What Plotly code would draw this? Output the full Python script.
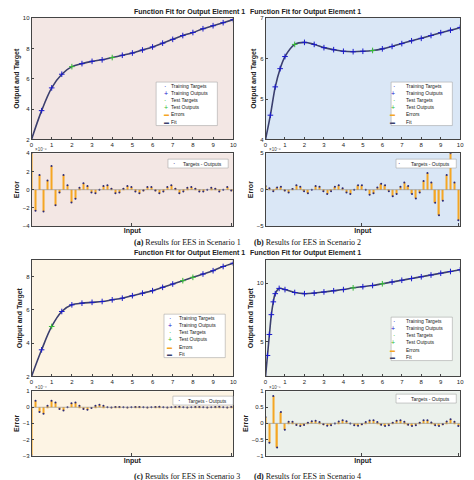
import plotly.graph_objects as go

# fitted curves, read at knots
xa = [0, 0.5, 1, 1.5, 2, 2.5, 3, 3.5, 4, 4.5, 5, 5.5, 6, 6.5, 7, 7.5, 8, 8.5, 9, 9.5, 10]
ya = [2, 3.9, 5.4, 6.3, 6.8, 7.0, 7.15, 7.25, 7.4, 7.55, 7.7, 7.9, 8.1, 8.35, 8.6, 8.85, 9.05, 9.3, 9.5, 9.7, 9.9]
xb = [0, 0.25, 0.5, 0.75, 1, 1.5, 2, 2.5, 3, 3.5, 4, 4.5, 5, 5.5, 6, 6.5, 7, 7.5, 8, 8.5, 9, 9.5, 10]
yb = [4, 4.6, 5.3, 5.75, 6.05, 6.35, 6.4, 6.35, 6.27, 6.22, 6.18, 6.17, 6.18, 6.2, 6.24, 6.3, 6.37, 6.44, 6.5, 6.57, 6.64, 6.7, 6.77]
xc = [0, 0.5, 1, 1.5, 2, 2.5, 3, 3.5, 4, 4.5, 5, 5.5, 6, 6.5, 7, 7.5, 8, 8.5, 9, 9.5, 10]
yc = [2, 3.6, 5.0, 5.9, 6.3, 6.4, 6.45, 6.5, 6.6, 6.7, 6.85, 7.0, 7.15, 7.35, 7.55, 7.75, 7.95, 8.15, 8.35, 8.6, 8.8]
xd = [0, 0.1, 0.2, 0.3, 0.4, 0.5, 0.7, 1, 1.5, 2, 2.5, 3, 3.5, 4, 4.5, 5, 5.5, 6, 6.5, 7, 7.5, 8, 8.5, 9, 9.5, 10]
yd = [2, 3.8, 5.6, 7.3, 8.4, 9.1, 9.55, 9.45, 9.2, 9.1, 9.15, 9.25, 9.35, 9.45, 9.6, 9.7, 9.8, 9.95, 10.1, 10.25, 10.4, 10.55, 10.7, 10.85, 11.0, 11.15]
test_a = [4, 8]
test_b = [5, 13]
test_c = [2, 15, 16]
test_d = [14, 17]

# errors (targets - outputs), x from 0 to 10 step 0.2
ex = [round(i * 0.2, 1) for i in range(51)]
ea = [4.0, -2.3, 1.6, -2.4, 1.0, 2.6, -1.7, -0.3, 1.6, 0.5, -1.4, -1.0, 0.2, 0.7, 0.4, -0.3, -0.4, 0.0, 0.4, 0.5,
      0.1, -0.4, -0.3, 0.1, 0.4, 0.3, -0.2, -0.4, -0.1, 0.3, 0.3, -0.1, -0.4, -0.2, 0.3, 0.5, 0.1, -0.4, -0.2, 0.2,
      0.3, 0.1, -0.2, -0.2, 0.0, 0.2, 0.1, -0.2, 0.0, 0.3, -0.1]
eb = [0.5, 0.2, -0.2, 0.3, 0.4, -0.1, -0.4, 0.1, 0.6, 0.4, -0.2, -0.5, 0.0, 0.5, 0.4, -0.2, -0.6, -0.2, 0.4, 0.6,
      0.2, -0.4, -0.6, 0.0, 0.6, 0.6, 0.0, -0.7, -0.5, 0.3, 0.8, 0.6, -0.2, -0.9, -0.6, 0.4, 1.0, 0.5, -0.6, -1.2,
      -0.4, 1.2, 2.3, 1.0, -1.8, -3.5, -1.5, 2.0, 5.0, 1.0, -4.2]
ec = [-3.0, 0.4, -0.3, -0.4, 0.1, 0.4, 0.3, -0.1, -0.2, 0.0, 0.25, 0.3, 0.1, -0.1, -0.15, -0.05, 0.1, 0.15, 0.1, 0.0,
      -0.02, 0.02, 0.02, 0.0, -0.02, 0.0, 0.02, 0.02, 0.0, -0.02, 0.0, 0.02, 0.03, 0.0, -0.02, 0.0, 0.02, 0.03, 0.0, -0.02,
      0.0, 0.02, 0.02, 0.0, -0.02, 0.0, 0.02, 0.03, 0.0, -0.02, 0.02]
ed = [0.2, -0.6, 0.85, -0.75, 0.35, -0.2, 0.05, 0.05, -0.05, -0.08, -0.05, 0.02, 0.07, 0.08, 0.04, -0.03, -0.07, -0.06, 0.0, 0.06,
      0.1, 0.07, 0.0, -0.06, -0.07, -0.03, 0.04, 0.09, 0.1, 0.04, -0.04, -0.08, -0.06, 0.02, 0.08, 0.1, 0.05, -0.04, -0.08, -0.06,
      0.02, 0.1, 0.1, 0.03, -0.06, -0.08, -0.03, 0.06, 0.13, 0.05, -0.08]

legend_labels = ["Training Targets", "Training Outputs", "Test Targets", "Test Outputs", "Errors", "Fit"]

BLUE, GREEN, ORANGE, FIT = "#1a1acc", "#33bb33", "#f5a623", "#3b3f6e"

panels = [
    dict(x=xa, y=ya, test=test_a, e=ea, yr=[2, 10], er=[-4, 4], exp="×10⁻⁶", bg="#f3e7e4", col=0, row=0,
         cap="(a)", capt=" Results for EES in Scenario 1", leg=(148, 72), eleg=(160, 150)),
    dict(x=xb, y=yb, test=test_b, e=eb, yr=[4, 7], er=[-5, 5], exp="×10⁻⁶", bg="#dae7f6", col=1, row=0,
         cap="(b)", capt=" Results for EES in Scenario 2", leg=(386, 72), eleg=(391, 150)),
    dict(x=xc, y=yc, test=test_c, e=ec, yr=[2, 9], er=[-3, 1], exp="×10⁻⁴", bg="#fdf4e4", col=0, row=1,
         cap="(c)", capt=" Results for EES in Scenario 3", leg=(156, 307), eleg=(165, 390)),
    dict(x=xd, y=yd, test=test_d, e=ed, yr=[2, 12], er=[-1, 1], exp="×10⁻⁵", bg="#ebf1ec", col=1, row=1,
         cap="(d)", capt=" Results for EES in Scenario 4", leg=(386, 310), eleg=(391, 388)),
]


def px(v):
    return v / 474


def py(v):
    return 1 - v / 480


xdom = [[0.046, 0.477], [0.546, 0.962]]
top_dom = [[0.729, 0.985], [0.229, 0.475]]
err_dom = [[0.546, 0.700], [0.062, 0.198]]
cap_y = [0.5125, 0.018]

fig = go.Figure()
layout = {}
ann = []
ax_font = dict(size=6, color="#222")
for i, p in enumerate(panels):
    n1, n2 = 2 * i + 1, 2 * i + 2
    s1 = "" if n1 == 1 else str(n1)
    xd_ = xdom[p["col"]]
    common = dict(showline=True, mirror=True, linecolor="#444", linewidth=0.6, ticks="inside", ticklen=3,
                  tickcolor="#444", tickfont=ax_font, showgrid=False, zeroline=False)
    layout["xaxis" + s1] = dict(domain=xd_, anchor="y" + s1, range=[0, 10], dtick=1, **common)
    layout["yaxis" + s1] = dict(domain=top_dom[p["row"]], anchor="x" + s1, range=p["yr"],
                                title=dict(text="<b>Output and Target</b>", font=dict(size=7), standoff=2), **common)
    layout["xaxis" + str(n2)] = dict(domain=xd_, anchor="y" + str(n2), range=[0, 10.1], showticklabels=False,
                                     title=dict(text="<b>Input</b>", font=dict(size=7), standoff=2), **common)
    layout["yaxis" + str(n2)] = dict(domain=err_dom[p["row"]], anchor="x" + str(n2), range=p["er"],
                                     title=dict(text="<b>Error</b>", font=dict(size=7), standoff=2), **common)
    xa1, ya1 = "x" + s1, "y" + s1
    for dom in (top_dom[p["row"]], err_dom[p["row"]]):
        fig.add_shape(type="rect", xref="paper", yref="paper", x0=xd_[0], x1=xd_[1], y0=dom[0], y1=dom[1],
                      fillcolor=p["bg"], line_width=0, layer="below")
    tr_x = [v for k, v in enumerate(p["x"]) if k not in p["test"]]
    tr_y = [v for k, v in enumerate(p["y"]) if k not in p["test"]]
    te_x = [p["x"][k] for k in p["test"]]
    te_y = [p["y"][k] for k in p["test"]]
    fig.add_trace(go.Scatter(x=p["x"], y=p["y"], mode="lines", line=dict(color=FIT, width=1.6, shape="spline"),
                             xaxis=xa1, yaxis=ya1))
    fig.add_trace(go.Scatter(x=tr_x, y=tr_y, mode="markers", marker=dict(color=BLUE, size=4, symbol="cross-thin",
                             line=dict(color=BLUE, width=1)), xaxis=xa1, yaxis=ya1))
    fig.add_trace(go.Scatter(x=te_x, y=te_y, mode="markers", marker=dict(color=GREEN, size=4, symbol="cross-thin",
                             line=dict(color=GREEN, width=1)), xaxis=xa1, yaxis=ya1))
    fig.add_trace(go.Bar(x=ex, y=p["e"], marker=dict(color=ORANGE, line_width=0), width=0.07,
                         xaxis="x" + str(n2), yaxis="y" + str(n2)))
    fig.add_trace(go.Scatter(x=ex, y=p["e"], mode="markers", marker=dict(color="#2a2a7a", size=2),
                             xaxis="x" + str(n2), yaxis="y" + str(n2)))
    fig.add_trace(go.Scatter(x=[0, 10.1], y=[0, 0], mode="lines", line=dict(color="#888", width=0.6),
                             xaxis="x" + str(n2), yaxis="y" + str(n2)))

    # hand-drawn legend box (top plot)
    lx, ly = p["leg"]
    fig.add_shape(type="rect", xref="paper", yref="paper", x0=px(lx), x1=px(lx + 62), y0=py(ly), y1=py(ly + 44),
                  fillcolor="white", line=dict(color="#999", width=0.5))
    glyphs = [("·", BLUE), ("+", BLUE), ("·", GREEN), ("+", GREEN), ("▬", ORANGE), ("▬", FIT)]
    for k, (lab, (g, c)) in enumerate(zip(legend_labels, glyphs)):
        yy = py(ly + 4 + k * 7.2)
        ann.append(dict(text=g, x=px(lx + 6), y=yy, xref="paper", yref="paper", showarrow=False,
                        font=dict(size=7 if g != "▬" else 5, color=c), yanchor="middle"))
        ann.append(dict(text=lab, x=px(lx + 13), y=yy, xref="paper", yref="paper", showarrow=False,
                        xanchor="left", yanchor="middle", font=dict(size=5, color="#222")))
    ex_, ey_ = p["eleg"]
    fig.add_shape(type="rect", xref="paper", yref="paper", x0=px(ex_), x1=px(ex_ + 61), y0=py(ey_), y1=py(ey_ + 9),
                  fillcolor="white", line=dict(color="#999", width=0.5))
    ann.append(dict(text="·", x=px(ex_ + 6), y=py(ey_ + 4.5), xref="paper", yref="paper", showarrow=False,
                    font=dict(size=7, color="#2a2a7a"), yanchor="middle"))
    ann.append(dict(text="Targets - Outputs", x=px(ex_ + 13), y=py(ey_ + 4.5), xref="paper", yref="paper",
                    showarrow=False, xanchor="left", yanchor="middle", font=dict(size=5, color="#222")))

    mid = (xd_[0] + xd_[1]) / 2
    ann.append(dict(text="<b>Function Fit for Output Element 1</b>", x=mid, y=top_dom[p["row"]][1] + 0.001,
                    xref="paper", yref="paper", yanchor="bottom", showarrow=False, font=dict(size=7, color="#222")))
    ann.append(dict(text=p["exp"], x=xd_[0] + 0.004, y=err_dom[p["row"]][1] - 0.001, xref="paper", yref="paper",
                    xanchor="left", yanchor="bottom", showarrow=False, font=dict(size=4.5, color="#444")))
    ann.append(dict(text="<b>" + p["cap"] + "</b>" + p["capt"], x=mid, y=cap_y[p["row"]],
                    xref="paper", yref="paper", yanchor="middle", showarrow=False,
                    font=dict(size=8, family="Liberation Serif", color="#111")))

fig.update_layout(**layout)
fig.update_layout(width=474, height=480, margin=dict(l=0, r=0, t=0, b=0), plot_bgcolor="rgba(0,0,0,0)",
                  paper_bgcolor="white", barmode="overlay", annotations=ann, showlegend=False,
                  font=dict(family="Liberation Sans", color="#222"))
fig.write_html("out.html")
